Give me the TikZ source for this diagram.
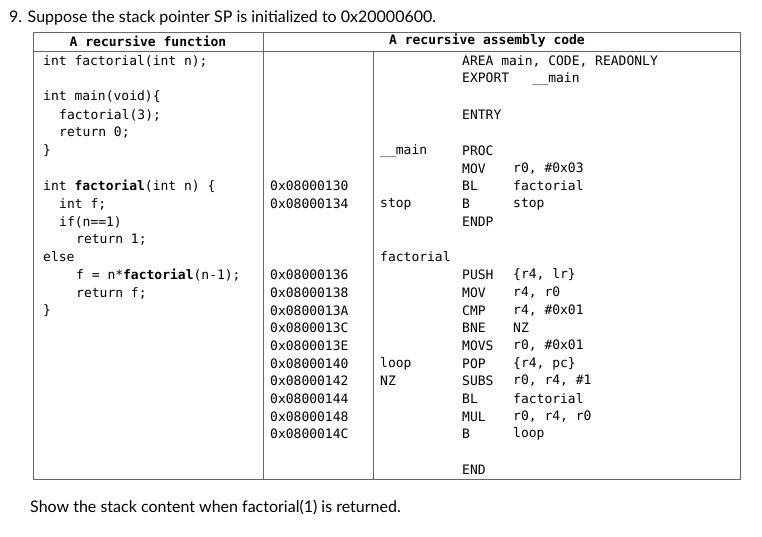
\documentclass[tikz,border=0pt]{standalone}
\usepackage{fontspec}
\setmainfont{Lato}
\setmonofont{DejaVu Sans Mono}
\begin{document}
\begin{tikzpicture}[x=1pt,y=-1pt,
  code/.style={anchor=west,inner sep=0pt,font=\fontsize{13}{15}\ttfamily},
  hdr/.style={inner sep=0pt,font=\fontsize{13}{15}\ttfamily\bfseries},
  txt/.style={anchor=west,inner sep=0pt,font=\fontsize{16}{18}\selectfont},
  rule/.style={draw=black!60,line width=0.8pt}]
\useasboundingbox (0,0) rectangle (762,536);
\node[txt] (title) at (9,18) {9. Suppose the stack pointer SP is initialized to 0x20000600.};
\draw[rule] (33,32) rectangle (740,479);
\draw[rule] (33,51) -- (740,51);
\draw[rule] (263,32) -- (263,479);
\draw[rule] (373,51) -- (373,479);
\node[hdr] (h1) at (148,41) {A recursive function};
\node[hdr] (h2) at (487,41) {A recursive assembly code};
% left
\node[code] (l1) at (43,61) {int factorial(int n);};
\node[code] (l2) at (43,97) {int main(void)\{};
\node[code] (l3) at (59,115) {factorial(3);};
\node[code] (l4) at (59,133) {return 0;};
\node[code] (l5) at (43,151) {\}};
\node[code] (l6) at (43,186) {int \textbf{factorial}(int n) \{};
\node[code] (l7) at (59,204) {int f;};
\node[code] (l8) at (59,222) {if(n==1)};
\node[code] (l9) at (76,240) {return 1;};
\node[code] (l10) at (43,257) {else};
\node[code] (l11) at (76,275) {f = n*\textbf{factorial}(n-1);};
\node[code] (l12) at (76,293) {return f;};
\node[code] (l13) at (43,311) {\}};
% addresses
\foreach \y/\a [count=\i] in {186/0x08000130,204/0x08000134,275/0x08000136,293/0x08000138,311/0x0800013A,328/0x0800013C,346/0x0800013E,364/0x08000140,381/0x08000142,399/0x08000144,417/0x08000148,434/0x0800014C}
  \node[code] (ad\i) at (270,\y) {\a};
% labels
\node[code] (lb1) at (380,151) {\_\_main};
\node[code] (lb2) at (380,204) {stop};
\node[code] (lb3) at (380,257) {factorial};
\node[code] (lb4) at (380,364) {loop};
\node[code] (lb5) at (380,381) {NZ};
% ops
\node[code] (r1) at (462,61) {AREA main, CODE, READONLY};
\node[code] (r2) at (462,79) {EXPORT\ \ \ \_\_main};
\node[code] (r3) at (462,115) {ENTRY};
\node[code] (r4) at (462,151) {PROC};
\node[code] (r19) at (462,222) {ENDP};
\node[code] (r20) at (462,470) {END};
\foreach \y/\o/\p [count=\i] in {169/MOV/{r0, \#0x03},186/BL/factorial,204/B/stop,275/PUSH/{\{r4, lr\}},293/MOV/{r4, r0},311/CMP/{r4, \#0x01},328/BNE/NZ,346/MOVS/{r0, \#0x01},364/POP/{\{r4, pc\}},381/SUBS/{r0, r4, \#1},399/BL/factorial,417/MUL/{r0, r4, r0},434/B/loop}
{
  \node[code] (op\i) at (462,\y) {\o};
  \node[code] (arg\i) at (513,\y) {\p};
}
\node[txt] (q) at (30,507) {Show the stack content when factorial(1) is returned.};
\end{tikzpicture}
\end{document}
